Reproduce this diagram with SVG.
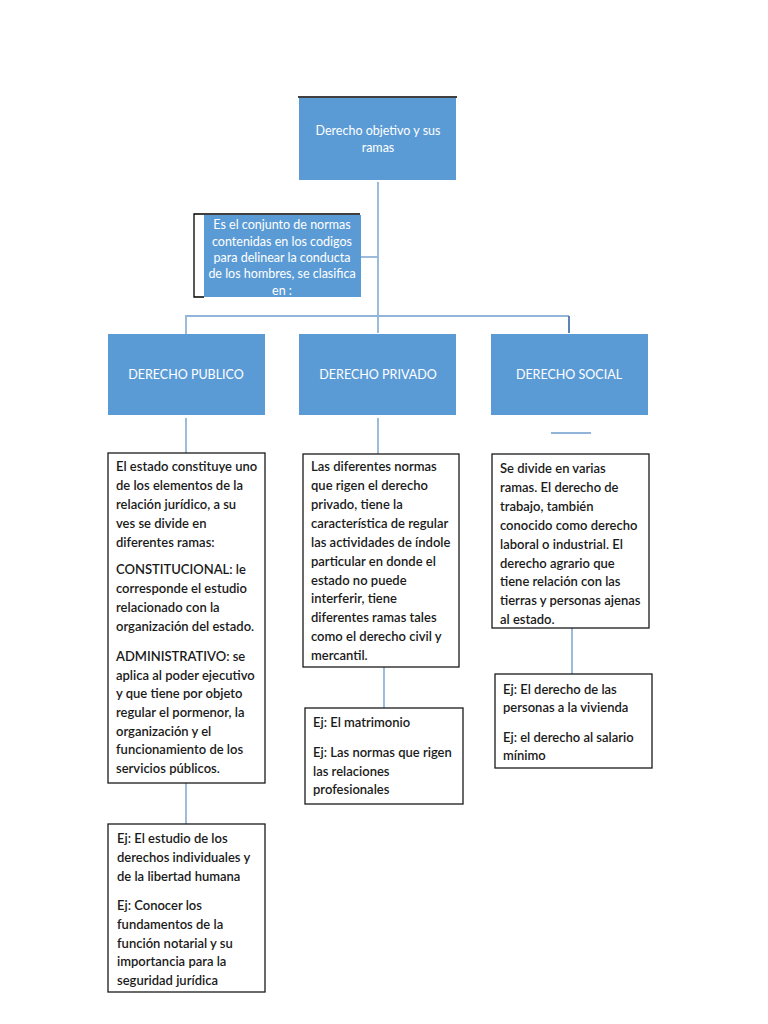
<svg xmlns="http://www.w3.org/2000/svg" width="768" height="1024" viewBox="0 0 768 1024">
<style>
.blue{fill:#5b9bd5}
.wt{fill:#ffffff;font-family:Lato,"Liberation Sans",sans-serif;font-size:12.5px;text-anchor:middle}
.bx{fill:#ffffff;stroke:#1a1a1a;stroke-width:1.3}
.tx{fill:#1a1a1a;font-family:Lato,"Liberation Sans",sans-serif;font-size:13px;font-weight:600}
.ln{stroke:#92b4d8;stroke-width:1.8;fill:none}
.blk{stroke:#000;stroke-width:1.3;fill:none}
</style>
<rect width="768" height="1024" fill="#ffffff"/>
<g id="connectors">
<line class="ln" x1="378" y1="182" x2="378" y2="333"/>
<line class="ln" x1="361" y1="257" x2="378" y2="257"/>
<polyline class="ln" points="186,334 186,316 569,316"/>
<line x1="569" y1="316" x2="569" y2="333" stroke="#4a78ad" stroke-width="1.8"/>
<line class="ln" x1="186" y1="418" x2="186" y2="453"/>
<line class="ln" x1="378" y1="418" x2="378" y2="455"/>
<line class="ln" x1="551" y1="433" x2="591" y2="433"/>
<line class="ln" x1="186" y1="783" x2="186" y2="824"/>
<line class="ln" x1="384" y1="667" x2="384" y2="708"/>
<line class="ln" x1="572" y1="628" x2="572" y2="674"/>
</g>
<g id="root">
<rect class="blue" x="299" y="98" width="157" height="82"/>
<line class="blk" x1="298" y1="97" x2="457" y2="97"/>
<text class="wt" x="378" y="135">Derecho objetivo y sus</text>
<text class="wt" x="378" y="152">ramas</text>
</g>
<g id="definicion">
<rect class="blue" x="204" y="215" width="157" height="82"/>
<polyline class="blk" points="360,214 194,214 194,297 204,297"/>
<text class="wt" x="282" y="229">Es el conjunto de normas</text>
<text class="wt" x="282" y="246">contenidas en los codigos</text>
<text class="wt" x="282" y="262">para delinear la conducta</text>
<text class="wt" x="282" y="278">de los hombres, se clasifica</text>
<text class="wt" x="282" y="295">en :</text>
</g>
<g id="publico">
<rect class="blue" x="108" y="334" width="157" height="81"/>
<text class="wt" x="186" y="379">DERECHO PUBLICO</text>
</g>
<g id="privado">
<rect class="blue" x="299" y="334" width="157" height="81"/>
<text class="wt" x="378" y="379">DERECHO PRIVADO</text>
</g>
<g id="social">
<rect class="blue" x="491" y="334" width="157" height="81"/>
<text class="wt" x="569" y="379">DERECHO SOCIAL</text>
</g>
<g id="publico-desc">
<rect class="bx" x="108" y="453" width="157" height="330"/>
<text class="tx" x="116" y="471">El estado constituye uno</text>
<text class="tx" x="116" y="490">de los elementos de la</text>
<text class="tx" x="116" y="509">relación jurídico, a su</text>
<text class="tx" x="116" y="528">ves se divide en</text>
<text class="tx" x="116" y="547">diferentes ramas:</text>
<text class="tx" x="116" y="574">CONSTITUCIONAL: le</text>
<text class="tx" x="116" y="593">corresponde el estudio</text>
<text class="tx" x="116" y="612">relacionado con la</text>
<text class="tx" x="116" y="631">organización del estado.</text>
<text class="tx" x="116" y="661">ADMINISTRATIVO: se</text>
<text class="tx" x="116" y="680">aplica al poder ejecutivo</text>
<text class="tx" x="116" y="698">y que tiene por objeto</text>
<text class="tx" x="116" y="717">regular el pormenor, la</text>
<text class="tx" x="116" y="736">organización y el</text>
<text class="tx" x="116" y="754">funcionamiento de los</text>
<text class="tx" x="116" y="773">servicios públicos.</text>
</g>
<g id="publico-ej">
<rect class="bx" x="108" y="824" width="157" height="168"/>
<text class="tx" x="117" y="843">Ej: El estudio de los</text>
<text class="tx" x="117" y="862">derechos individuales y</text>
<text class="tx" x="117" y="881">de la libertad humana</text>
<text class="tx" x="117" y="910">Ej: Conocer los</text>
<text class="tx" x="117" y="929">fundamentos de la</text>
<text class="tx" x="117" y="948">función notarial y su</text>
<text class="tx" x="117" y="966">importancia para la</text>
<text class="tx" x="117" y="985">seguridad jurídica</text>
</g>
<g id="privado-desc">
<rect class="bx" x="303" y="454" width="156" height="213"/>
<text class="tx" x="311" y="471">Las diferentes normas</text>
<text class="tx" x="311" y="490">que rigen el derecho</text>
<text class="tx" x="311" y="509">privado, tiene la</text>
<text class="tx" x="311" y="528">característica de regular</text>
<text class="tx" x="311" y="547">las actividades de índole</text>
<text class="tx" x="311" y="566">particular en donde el</text>
<text class="tx" x="311" y="585">estado no puede</text>
<text class="tx" x="311" y="603">interferir, tiene</text>
<text class="tx" x="311" y="622">diferentes ramas tales</text>
<text class="tx" x="311" y="641">como el derecho civil y</text>
<text class="tx" x="311" y="660">mercantil.</text>
</g>
<g id="privado-ej">
<rect class="bx" x="305" y="708" width="158" height="96"/>
<text class="tx" x="313" y="727">Ej: El matrimonio</text>
<text class="tx" x="313" y="757">Ej: Las normas que rigen</text>
<text class="tx" x="313" y="776">las relaciones</text>
<text class="tx" x="313" y="794">profesionales</text>
</g>
<g id="social-desc">
<rect class="bx" x="492" y="454" width="157" height="174"/>
<text class="tx" x="500" y="473">Se divide en varias</text>
<text class="tx" x="500" y="492">ramas. El derecho de</text>
<text class="tx" x="500" y="511">trabajo, también</text>
<text class="tx" x="500" y="530">conocido como derecho</text>
<text class="tx" x="500" y="549">laboral o industrial. El</text>
<text class="tx" x="500" y="568">derecho agrario que</text>
<text class="tx" x="500" y="586">tiene relación con las</text>
<text class="tx" x="500" y="605">tierras y personas ajenas</text>
<text class="tx" x="500" y="624">al estado.</text>
</g>
<g id="social-ej">
<rect class="bx" x="495" y="674" width="157" height="94"/>
<text class="tx" x="503" y="694">Ej: El derecho de las</text>
<text class="tx" x="503" y="712">personas a la vivienda</text>
<text class="tx" x="503" y="742">Ej: el derecho al salario</text>
<text class="tx" x="503" y="760">mínimo</text>
</g>
</svg>
